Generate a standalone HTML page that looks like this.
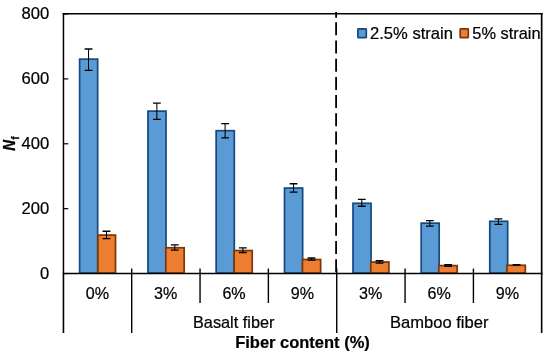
<!DOCTYPE html>
<html><head><meta charset="utf-8"><title>Chart</title>
<style>
html,body{margin:0;padding:0;background:#fff;}
body{width:550px;height:356px;overflow:hidden;}
svg{display:block;}
text{font-family:"Liberation Sans",Arial,sans-serif;font-size:15.7px;fill:#000;stroke:#000;stroke-width:0.2px;}
.b{font-weight:bold;}
</style></head><body>
<svg width="550" height="356" viewBox="0 0 550 356">
<rect width="550" height="356" fill="#fff"/>
<rect x="79.62" y="59.15" width="18.05" height="213.95" fill="#5b9bd5" stroke="#14487f" stroke-width="1.7"/>
<rect x="97.92" y="235.10" width="17.60" height="38.00" fill="#ed7d31" stroke="#7c3608" stroke-width="1.7"/>
<rect x="147.96" y="111.15" width="18.05" height="161.95" fill="#5b9bd5" stroke="#14487f" stroke-width="1.7"/>
<rect x="165.76" y="247.75" width="18.40" height="25.35" fill="#ed7d31" stroke="#7c3608" stroke-width="1.7"/>
<rect x="216.16" y="130.70" width="18.15" height="142.40" fill="#5b9bd5" stroke="#14487f" stroke-width="1.7"/>
<rect x="234.11" y="250.55" width="18.10" height="22.55" fill="#ed7d31" stroke="#7c3608" stroke-width="1.7"/>
<rect x="284.50" y="188.05" width="18.15" height="85.05" fill="#5b9bd5" stroke="#14487f" stroke-width="1.7"/>
<rect x="302.45" y="259.49" width="18.20" height="13.61" fill="#ed7d31" stroke="#7c3608" stroke-width="1.7"/>
<rect x="352.99" y="203.30" width="18.05" height="69.80" fill="#5b9bd5" stroke="#14487f" stroke-width="1.7"/>
<rect x="370.79" y="262.00" width="18.10" height="11.10" fill="#ed7d31" stroke="#7c3608" stroke-width="1.7"/>
<rect x="421.19" y="223.15" width="18.00" height="49.95" fill="#5b9bd5" stroke="#14487f" stroke-width="1.7"/>
<rect x="438.79" y="265.60" width="18.40" height="7.50" fill="#ed7d31" stroke="#7c3608" stroke-width="1.7"/>
<rect x="489.78" y="221.29" width="17.90" height="51.81" fill="#5b9bd5" stroke="#14487f" stroke-width="1.7"/>
<rect x="506.93" y="265.27" width="18.40" height="7.83" fill="#ed7d31" stroke="#7c3608" stroke-width="1.7"/>
<path d="M88.52 49.00V70.30" stroke="#000" stroke-width="1.05" fill="none"/>
<path d="M84.62 49.00H92.42M84.62 70.30H92.42" stroke="#000" stroke-width="1.35" fill="none"/>
<path d="M106.47 231.21V238.68" stroke="#000" stroke-width="1.05" fill="none"/>
<path d="M102.57 231.21H110.37M102.57 238.68H110.37" stroke="#000" stroke-width="1.35" fill="none"/>
<path d="M156.86 103.15V119.38" stroke="#000" stroke-width="1.05" fill="none"/>
<path d="M152.96 103.15H160.76M152.96 119.38H160.76" stroke="#000" stroke-width="1.35" fill="none"/>
<path d="M174.81 244.89V250.06" stroke="#000" stroke-width="1.05" fill="none"/>
<path d="M170.91 244.89H178.71M170.91 250.06H178.71" stroke="#000" stroke-width="1.35" fill="none"/>
<path d="M225.11 123.60V137.88" stroke="#000" stroke-width="1.05" fill="none"/>
<path d="M221.21 123.60H229.01M221.21 137.88H229.01" stroke="#000" stroke-width="1.35" fill="none"/>
<path d="M242.86 247.83V252.53" stroke="#000" stroke-width="1.05" fill="none"/>
<path d="M238.96 247.83H246.76M238.96 252.53H246.76" stroke="#000" stroke-width="1.35" fill="none"/>
<path d="M293.55 183.73V192.09" stroke="#000" stroke-width="1.05" fill="none"/>
<path d="M289.65 183.73H297.45M289.65 192.09H297.45" stroke="#000" stroke-width="1.35" fill="none"/>
<path d="M311.50 257.96V260.13" stroke="#000" stroke-width="1.05" fill="none"/>
<path d="M307.60 257.96H315.40M307.60 260.13H315.40" stroke="#000" stroke-width="1.35" fill="none"/>
<path d="M361.79 199.44V206.23" stroke="#000" stroke-width="1.05" fill="none"/>
<path d="M357.89 199.44H365.69M357.89 206.23H365.69" stroke="#000" stroke-width="1.35" fill="none"/>
<path d="M379.54 260.72V263.19" stroke="#000" stroke-width="1.05" fill="none"/>
<path d="M375.64 260.72H383.44M375.64 263.19H383.44" stroke="#000" stroke-width="1.35" fill="none"/>
<path d="M429.89 220.57V226.09" stroke="#000" stroke-width="1.05" fill="none"/>
<path d="M425.99 220.57H433.79M425.99 226.09H433.79" stroke="#000" stroke-width="1.35" fill="none"/>
<path d="M448.19 264.75V266.40" stroke="#000" stroke-width="1.05" fill="none"/>
<path d="M444.29 264.75H452.09M444.29 266.40H452.09" stroke="#000" stroke-width="1.35" fill="none"/>
<path d="M498.48 218.88V224.39" stroke="#000" stroke-width="1.05" fill="none"/>
<path d="M494.58 218.88H502.38M494.58 224.39H502.38" stroke="#000" stroke-width="1.35" fill="none"/>
<path d="M516.53 264.75V265.15" stroke="#000" stroke-width="1.05" fill="none"/>
<path d="M512.63 264.75H520.43M512.63 265.15H520.43" stroke="#000" stroke-width="1.35" fill="none"/>
<path d="M62.7 13.75H542.75" stroke="#000" stroke-width="1.6" fill="none"/>
<path d="M62.7 273.55H542.75" stroke="#000" stroke-width="1.5" fill="none"/>
<path d="M63.45 13V273.55" stroke="#000" stroke-width="1.5" fill="none"/>
<path d="M541.65 13V273.55" stroke="#000" stroke-width="1.7" fill="none"/>
<line x1="63.45" y1="273.55" x2="68.25" y2="273.55" stroke="#000" stroke-width="1.2"/>
<text x="49.2" y="279.32" text-anchor="end" textLength="9.2" lengthAdjust="spacingAndGlyphs">0</text>
<line x1="63.45" y1="208.66" x2="68.25" y2="208.66" stroke="#000" stroke-width="1.2"/>
<text x="49.2" y="213.58" text-anchor="end" textLength="27.8" lengthAdjust="spacingAndGlyphs">200</text>
<line x1="63.45" y1="143.78" x2="68.25" y2="143.78" stroke="#000" stroke-width="1.2"/>
<text x="49.2" y="149.25" text-anchor="end" textLength="27.8" lengthAdjust="spacingAndGlyphs">400</text>
<line x1="63.45" y1="78.89" x2="68.25" y2="78.89" stroke="#000" stroke-width="1.2"/>
<text x="49.2" y="83.81" text-anchor="end" textLength="27.8" lengthAdjust="spacingAndGlyphs">600</text>
<line x1="63.45" y1="14.00" x2="68.25" y2="14.00" stroke="#000" stroke-width="1.2"/>
<text x="49.2" y="18.82" text-anchor="end" textLength="27.8" lengthAdjust="spacingAndGlyphs">800</text>
<line x1="63.45" y1="273.55" x2="63.45" y2="333.0" stroke="#000" stroke-width="1.6"/>
<line x1="131.69" y1="268.55" x2="131.69" y2="333.0" stroke="#000" stroke-width="1.4"/>
<line x1="200.04" y1="268.55" x2="200.04" y2="303" stroke="#000" stroke-width="1.4"/>
<line x1="268.38" y1="268.55" x2="268.38" y2="303" stroke="#000" stroke-width="1.4"/>
<line x1="336.72" y1="268.55" x2="336.72" y2="333.0" stroke="#000" stroke-width="1.4"/>
<line x1="405.06" y1="268.55" x2="405.06" y2="303" stroke="#000" stroke-width="1.4"/>
<line x1="473.41" y1="268.55" x2="473.41" y2="303" stroke="#000" stroke-width="1.4"/>
<line x1="541.65" y1="273.55" x2="541.65" y2="333.0" stroke="#000" stroke-width="1.6"/>
<line x1="336.1" y1="22.2" x2="336.1" y2="273.55" stroke="#000" stroke-width="1.8" stroke-dasharray="13 5.23"/>
<line x1="336.1" y1="12.0" x2="336.1" y2="17.7" stroke="#000" stroke-width="1.8"/>
<text x="97.37" y="298.75" text-anchor="middle" textLength="23.3" lengthAdjust="spacingAndGlyphs">0%</text>
<text x="165.71" y="298.75" text-anchor="middle" textLength="23.3" lengthAdjust="spacingAndGlyphs">3%</text>
<text x="234.06" y="298.75" text-anchor="middle" textLength="23.3" lengthAdjust="spacingAndGlyphs">6%</text>
<text x="302.40" y="298.75" text-anchor="middle" textLength="23.3" lengthAdjust="spacingAndGlyphs">9%</text>
<text x="370.74" y="298.75" text-anchor="middle" textLength="23.3" lengthAdjust="spacingAndGlyphs">3%</text>
<text x="439.09" y="298.75" text-anchor="middle" textLength="23.3" lengthAdjust="spacingAndGlyphs">6%</text>
<text x="507.43" y="298.75" text-anchor="middle" textLength="23.3" lengthAdjust="spacingAndGlyphs">9%</text>
<text x="234.31" y="328.3" text-anchor="middle" textLength="81.5" lengthAdjust="spacingAndGlyphs" dx="-0.6">Basalt fiber</text>
<text x="439.36" y="328.3" text-anchor="middle" textLength="98.5" lengthAdjust="spacingAndGlyphs" dx="-0.15">Bamboo fiber</text>
<text class="b" x="302.5" y="348.3" text-anchor="middle" textLength="134.6" lengthAdjust="spacingAndGlyphs">Fiber content (%)</text>
<rect x="357.9" y="28.95" width="8.4" height="8.7" rx="0.5" fill="#5b9bd5" stroke="#14487f" stroke-width="1.7"/>
<text x="370.0" y="38.95" textLength="83.0" lengthAdjust="spacingAndGlyphs">2.5% strain</text>
<rect x="460.2" y="28.95" width="8.1" height="8.7" rx="0.5" fill="#ed7d31" stroke="#7c3608" stroke-width="1.7"/>
<text x="472.3" y="38.95" textLength="68.2" lengthAdjust="spacingAndGlyphs">5% strain</text>
<text class="b" transform="translate(14.8 150.85) rotate(-90) scale(0.93 1)" font-style="italic" style="font-size:16px;stroke-width:0.3px">N<tspan style="font-size:10.5px" font-style="normal" dy="3.8" dx="0.45">f</tspan></text>
</svg></body></html>
